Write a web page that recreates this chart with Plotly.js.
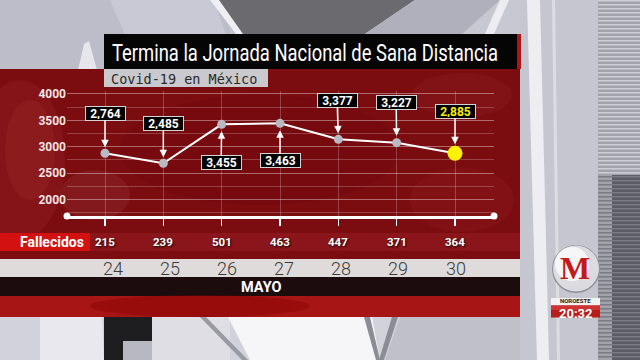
<!DOCTYPE html>
<html><head><meta charset="utf-8">
<script src="https://cdn.plot.ly/plotly-3.0.1.min.js"></script>
<style>html,body{margin:0;padding:0;background:#c3c3cf;overflow:hidden}#chart{width:640px;height:360px}</style>
</head><body><div id="chart"></div>
<script>
// ---- data ----
const dias = [24, 25, 26, 27, 28, 29, 30];
const casosEtiquetas = ['2,764', '2,485', '3,455', '3,463', '3,377', '3,227', '2,885'];
const nivelGrafico = [2875, 2686, 3424, 3443, 3140, 3076, 2875];
const fallecidos = [215, 239, 501, 463, 447, 371, 364];
const ejeYValores = [2000, 2500, 3000, 3500, 4000];
const mes = 'MAYO';
const titulo = 'Termina la Jornada Nacional de Sana Distancia';
const subtitulo = 'Covid-19 en México';
const etiquetaFila = 'Fallecidos';
const logoLetra = 'M';
const logoZona = 'NOROESTE';
const logoHora = '20:32';

// ---- helpers (pixel -> paper) ----
const W = 640, H = 360;
const X = p => p / W, Y = p => 1 - p / H;
function rect(x0, y0, x1, y1, fill, op, layer) {
  return {type: 'rect', xref: 'paper', yref: 'paper', x0: X(x0), x1: X(x1), y0: Y(y1), y1: Y(y0),
    fillcolor: fill, line: {width: 0}, layer: layer || 'below', opacity: op == null ? 1 : op};
}
function poly(pts, fill, op, layer) {
  return {type: 'path', xref: 'paper', yref: 'paper',
    path: 'M' + pts.map(p => X(p[0]).toFixed(5) + ',' + Y(p[1]).toFixed(5)).join('L') + 'Z',
    fillcolor: fill, line: {width: 0}, layer: layer || 'below', opacity: op == null ? 1 : op};
}
function ell(cx, cy, rx, ry, fill, op, layer) {
  return {type: 'circle', xref: 'paper', yref: 'paper', x0: X(cx - rx), x1: X(cx + rx), y0: Y(cy + ry), y1: Y(cy - ry),
    fillcolor: fill, line: {width: 0}, layer: layer || 'below', opacity: op == null ? 1 : op};
}

const shapes = [];
// studio background
shapes.push(rect(0, 0, 230, 70, '#bdbdca'));
shapes.push(poly([[110,0],[214,0],[238,70],[140,70]], '#c9c9d5'));
shapes.push(poly([[78,70],[84,44],[89,41],[97,70]], '#e6e6ec'));
shapes.push(poly([[218,0],[415,0],[365,34],[242,34]], '#6b6b6f'));
shapes.push(poly([[210,0],[219,0],[243,34],[236,34]], '#eeeef3'));
shapes.push(poly([[415,0],[600,0],[600,70],[360,70],[365,34]], '#c8c8d2'));
shapes.push(poly([[415,0],[500,0],[462,34],[365,34]], '#b0b0bc'));
shapes.push(poly([[500,0],[509,0],[478,70],[469,70]], '#ececf2'));
shapes.push(rect(520, 0, 600, 360, '#c6c6d0'));
shapes.push(poly([[527,0],[540,0],[549,360],[537,360]], '#eeeef2'));
shapes.push(poly([[552,0],[555,0],[560,360],[557,360]], '#dcdce2'));
shapes.push(rect(598, 0, 640, 360, '#a2a2ab'));
shapes.push(rect(612, 175, 640, 360, '#5c5c64'));
for (let yy = 0; yy < 360; yy += 4) shapes.push(rect(598, yy, 640, yy + 1.5, yy < 175 ? '#cdcdd4' : '#7a7a82'));
// bottom studio
shapes.push(rect(0, 317, 520, 360, '#d2d2da'));
shapes.push(poly([[40,317],[102,317],[104,360],[40,360]], '#e8e8ee'));
shapes.push(poly([[104,317],[152,317],[152,360],[104,360]], '#1e1e21'));
shapes.push(poly([[123,341],[152,341],[152,360],[123,360]], '#b8b8c0'));
shapes.push(poly([[152,317],[230,317],[230,360],[152,360]], '#dedee4'));
shapes.push(poly([[228,317],[372,317],[380,360],[250,360]], '#f6f6f8'));
shapes.push(poly([[200,317],[206,317],[248,360],[242,360]], '#9a9aa2'));
shapes.push(poly([[364,317],[370,317],[380,360],[376,360]], '#8c8c94'));
shapes.push(poly([[392,317],[398,317],[384,360],[379,360]], '#8c8c94'));
shapes.push(poly([[400,317],[520,317],[520,360],[385,360]], '#c0c0c9'));
// red panel with soft texture
shapes.push(rect(0, 69, 520, 317, '#7b0c10'));
shapes.push(ell(20, 160, 45, 80, '#b23c3c', 0.16));
shapes.push(ell(30, 150, 25, 50, '#b84444', 0.14));
shapes.push(ell(95, 195, 35, 25, '#c77b7b', 0.12));
shapes.push(ell(462, 200, 52, 32, '#a52a2a', 0.18));
shapes.push(ell(462, 95, 50, 22, '#a33232', 0.16));
shapes.push(ell(260, 150, 140, 55, '#5a0006', 0.12));
// title & subtitle
shapes.push(rect(104, 34, 520, 69, '#050505'));
shapes.push(rect(517, 34, 521, 69, '#b01414'));
shapes.push(rect(104, 69, 268, 87, '#c9c9ce'));
// bands
shapes.push(rect(90, 233, 520, 251, '#951d22', 0.6));
shapes.push(rect(0, 233, 90, 251, '#d41111'));
shapes.push(rect(0, 259, 520, 277, '#dfdbdb'));
shapes.push(rect(0, 277, 520, 296, '#1c0c0e'));
shapes.push(rect(0, 296, 520, 317, '#a81515'));
shapes.push(ell(200, 306, 110, 11, '#820000', 0.4));
// axis end dots
[67, 494].forEach(px => shapes.push({type: 'circle', xref: 'paper', yref: 'paper', xsizemode: 'pixel', ysizemode: 'pixel',
  xanchor: X(px), yanchor: Y(216), x0: -3.5, x1: 3.5, y0: -3.5, y1: 3.5, fillcolor: '#ffffff', line: {width: 0}, layer: 'above'}));
// logo
shapes.push(ell(576, 269, 24, 24, '#8e8e96', 1, 'above'));
shapes.push(ell(576, 268.5, 23, 23, '#dcdce0', 1, 'above'));
shapes.push(ell(572, 264, 17, 17, '#f6f6f8', 1, 'above'));
shapes.push(rect(551, 298, 600, 305.5, '#f2f2f2', 1, 'above'));
shapes.push(rect(551, 305.5, 600, 317.5, '#b81c1c', 1, 'above'));
shapes.push(rect(551, 305.5, 600, 310, '#cf3434', 1, 'above'));

// ---- annotations ----
const ann = [];
ann.push({xref: 'paper', yref: 'paper', x: X(110), y: Y(52.5), xanchor: 'left', yanchor: 'middle', align: 'left', showarrow: false,
  text: titulo, font: {family: 'Roboto, sans-serif', size: 23.5, color: '#ffffff'}});
ann.push({xref: 'paper', yref: 'paper', x: X(109), y: Y(78.5), xanchor: 'left', yanchor: 'middle', showarrow: false,
  text: subtitulo, font: {family: '"DejaVu Sans Mono", monospace', size: 13.5, color: '#2a2a2a'}});
ann.push({xref: 'paper', yref: 'paper', x: X(86), y: Y(242), xanchor: 'right', yanchor: 'middle', showarrow: false,
  text: etiquetaFila, font: {family: 'Roboto, sans-serif', size: 14, weight: 'bold', color: '#ffffff'}});
ann.push({xref: 'paper', yref: 'paper', x: X(261), y: Y(287), xanchor: 'center', yanchor: 'middle', showarrow: false,
  text: mes, font: {family: 'Roboto, sans-serif', size: 14.5, weight: 'bold', color: '#ffffff'}});

const ayOff = [-40, -39.5, 38, 37, -39, -40.5, -42];
const axOff = [0, 0, -0.5, 0, -1.2, -0.5, 0];
const stand = [6, 6, 7, 7, 6, 7, 9];
const last = dias.length - 1;
dias.forEach((d, i) => {
  ann.push({x: d, y: nivelGrafico[i], xref: 'x', yref: 'y', text: casosEtiquetas[i], showarrow: true,
    ax: axOff[i], ay: ayOff[i], arrowhead: 2, arrowsize: 1, arrowwidth: 1.5, arrowcolor: '#ffffff', standoff: stand[i],
    bgcolor: '#000000', bordercolor: '#d4d4d4', borderwidth: 1, borderpad: 1, width: 37, height: 11,
    font: {family: 'Roboto, sans-serif', size: 12, weight: 'bold', color: i === last ? '#f6f000' : '#ffffff'}});
  ann.push({x: d, xref: 'x', yref: 'paper', y: Y(242), xanchor: 'center', yanchor: 'middle', showarrow: false, text: String(fallecidos[i]),
    font: {family: 'Roboto, sans-serif', size: 11.5, weight: 'bold', color: '#ffffff', shadow: '1px 1px 2px rgba(0,0,0,0.85)'}});
  ann.push({x: d, xref: 'x', yref: 'paper', y: Y(268.5), xanchor: 'center', yanchor: 'middle', showarrow: false, text: String(d),
    xshift: 8 - i * 1.25,
    font: {family: 'Roboto, sans-serif', size: 18, weight: 300, color: '#3a3a3a'}});
});
ann.push({xref: 'paper', yref: 'paper', x: X(575), y: Y(268), xanchor: 'center', yanchor: 'middle', showarrow: false, text: logoLetra,
  font: {family: '"Liberation Serif", "DejaVu Serif", serif', size: 32, weight: 'bold', color: '#c41a1a'}});
ann.push({xref: 'paper', yref: 'paper', x: X(575.5), y: Y(305.2), xanchor: 'center', yanchor: 'bottom', borderpad: 0, showarrow: false, text: logoZona,
  font: {family: 'Roboto, sans-serif', size: 6, weight: 'bold', color: '#222222'}});
ann.push({xref: 'paper', yref: 'paper', x: X(575.5), y: Y(305.2), xanchor: 'center', yanchor: 'top', borderpad: 0, showarrow: false, text: logoHora,
  font: {family: 'Roboto, sans-serif', size: 13, weight: 'bold', color: '#ffffff'}});

// ---- traces ----
const traces = [{
  x: dias, y: nivelGrafico, type: 'scatter', mode: 'lines+markers', cliponaxis: false, hoverinfo: 'skip',
  line: {color: '#ffffff', width: 2},
  marker: {size: dias.map((d, i) => i === last ? 15 : 9), opacity: 1,
    color: dias.map((d, i) => i === last ? '#fff200' : '#b8b9c3'), line: {width: 0}}
}];

const xr = [23.3486, 30.6686];
const grid = 'rgba(255,255,255,0.22)';
const layout = {
  width: 640, height: 360, margin: {l: 0, r: 0, t: 0, b: 0, pad: 0},
  paper_bgcolor: '#c3c3cf', plot_bgcolor: 'rgba(0,0,0,0)', showlegend: false,
  xaxis: {domain: [67/640, 494/640], range: xr, tickvals: dias, showticklabels: false,
    showgrid: true, gridcolor: grid, gridwidth: 1, zeroline: false,
    showline: true, linecolor: '#ffffff', linewidth: 3, ticks: 'outside', ticklen: 7, tickwidth: 1.5, tickcolor: '#ffffff', fixedrange: true},
  xaxis2: {overlaying: 'x', anchor: 'y', range: xr, tickvals: dias, showticklabels: false, showgrid: false, zeroline: false,
    showline: false, ticks: 'inside', ticklen: 7, tickwidth: 1.5, tickcolor: '#ffffff', fixedrange: true},
  yaxis: {domain: [1 - 216/360, 1 - 91/360], range: [1687.5, 4054.9], tickmode: 'array', tickvals: ejeYValores,
    showgrid: true, gridcolor: grid, gridwidth: 1,
    minor: {tickmode: 'linear', tick0: 0, dtick: 250, showgrid: true, gridcolor: grid, gridwidth: 1},
    zeroline: false, showline: false, ticks: '', ticksuffix: ' .', ticklabelstandoff: 0,
    tickfont: {family: 'Roboto, sans-serif', size: 12, weight: 'bold', color: '#f1e4e4'}, fixedrange: true},
  shapes: shapes, annotations: ann
};
Plotly.newPlot('chart', traces, layout, {staticPlot: true, displayModeBar: false}).then(gd => {
  // condense the headline to the width it occupies in the broadcast graphic
  const t = gd.querySelector('.annotation[data-index="0"] text.annotation-text');
  if (t) { t.setAttribute('textLength', '386'); t.setAttribute('lengthAdjust', 'spacingAndGlyphs'); }
});
</script></body></html>
